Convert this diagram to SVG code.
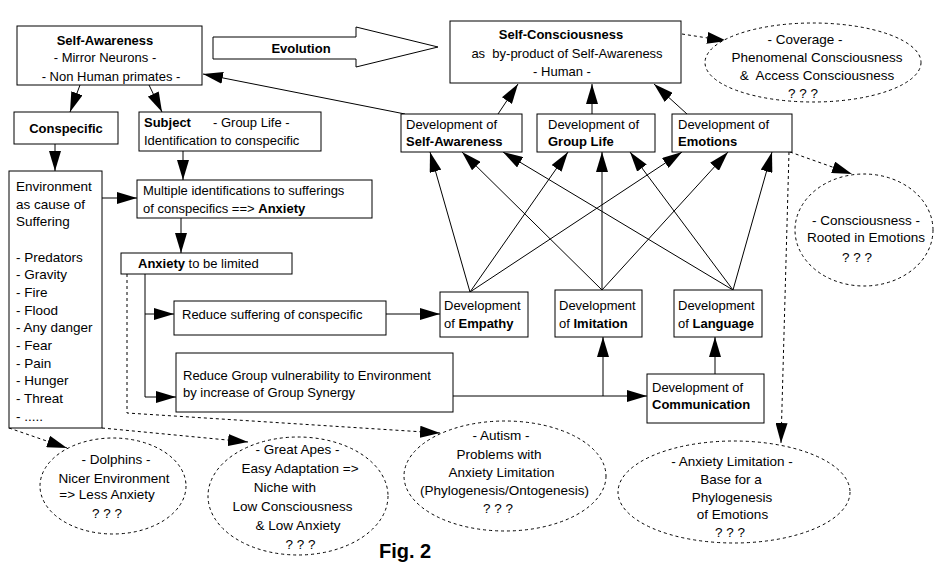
<svg xmlns="http://www.w3.org/2000/svg" width="944" height="579" viewBox="0 0 944 579">
<defs>
<marker id="ah" markerUnits="userSpaceOnUse" markerWidth="21" markerHeight="12" refX="20" refY="6" orient="auto"><path d="M0,0 L20,6 L0,12 z" fill="#000"/></marker>
<style>
text{font-family:"Liberation Sans",Arial,sans-serif;font-size:13px;fill:#000;white-space:pre}
.b{font-weight:bold}
.c{text-anchor:middle}
.e{font-size:13.5px}
rect,.n{fill:#fff;stroke:#000;stroke-width:1}
ellipse{fill:#fff;stroke:#000;stroke-width:1;stroke-dasharray:3,3}
.l{fill:none;stroke:#000;stroke-width:1}
.a{marker-end:url(#ah)}
.d{stroke-dasharray:3,3}
</style>
</defs>
<rect x="0" y="0" width="944" height="579" style="fill:#fff;stroke:none"/>
<g id="connectors">
<line class="l a" x1="80" y1="85" x2="70" y2="112"/>
<line class="l a" x1="149" y1="85" x2="162" y2="112"/>
<line class="l a" x1="55" y1="144" x2="55" y2="171"/>
<line class="l a" x1="183" y1="151" x2="183" y2="180"/>
<line class="l a" x1="102" y1="198" x2="137" y2="198"/>
<line class="l a" x1="181" y1="218" x2="181" y2="253"/>
<polyline class="l" points="145,274 145,397"/>
<line class="l a" x1="145" y1="314" x2="174" y2="314"/>
<line class="l a" x1="145" y1="397" x2="176" y2="397"/>
<line class="l a" x1="386" y1="314" x2="440" y2="314"/>
<line class="l a" x1="453" y1="396" x2="647" y2="396"/>
<line class="l a" x1="603" y1="396" x2="603" y2="337"/>
<line class="l a" x1="715" y1="374" x2="715" y2="337"/>
<line class="l a" x1="470" y1="292" x2="430" y2="152"/>
<line class="l a" x1="470" y1="292" x2="568" y2="152"/>
<line class="l a" x1="470" y1="292" x2="682" y2="152"/>
<line class="l a" x1="602" y1="290" x2="462" y2="152"/>
<line class="l a" x1="602" y1="290" x2="602" y2="152"/>
<line class="l a" x1="602" y1="290" x2="728" y2="152"/>
<line class="l a" x1="733" y1="290" x2="503" y2="152"/>
<line class="l a" x1="733" y1="290" x2="630" y2="152"/>
<line class="l a" x1="733" y1="290" x2="772" y2="152"/>
<line class="l a" x1="498" y1="114" x2="518" y2="84"/>
<line class="l a" x1="592" y1="114" x2="592" y2="84"/>
<line class="l a" x1="687" y1="114" x2="654" y2="84"/>
<line class="l a" x1="405" y1="114" x2="203" y2="74"/>
<line class="l d a" x1="682" y1="34" x2="727" y2="41"/>
<line class="l d a" x1="790" y1="152" x2="852" y2="174"/>
<line class="l d a" x1="789" y1="152" x2="781" y2="443"/>
<polyline class="l d a" points="127,274 127,413 440,433"/>
<line class="l d a" x1="9" y1="428" x2="67" y2="448"/>
<line class="l d a" x1="102" y1="428" x2="248" y2="442"/>
</g>
<g id="evolution">
<polygon class="n" points="213,37 356,37 356,27 438,47 356,67 356,59 213,59"/>
<text class="b c" x="301" y="53">Evolution</text>
</g>
<g id="self-awareness">
<rect x="17" y="26" width="185" height="59"/>
<text class="b c" x="105" y="45">Self-Awareness</text>
<text class="c" x="105" y="62">- Mirror Neurons -</text>
<text class="c" x="111" y="81">- Non Human primates -</text>
</g>
<g id="self-consciousness">
<rect x="450" y="21" width="231" height="62"/>
<text class="b c" x="561" y="39">Self-Consciousness</text>
<text class="c" x="567" y="58">as  by-product of Self-Awareness</text>
<text class="c" x="562" y="76">- Human -</text>
</g>
<g id="coverage">
<ellipse cx="813" cy="62.5" rx="108" ry="39.5"/>
<text class="c e" x="805" y="44">- Coverage -</text>
<text class="c e" x="817" y="62">Phenomenal Consciousness</text>
<text class="c e" x="817" y="80">&amp;  Access Consciousness</text>
<text class="c e" x="803" y="98">? ? ?</text>
</g>
<g id="dev-self-awareness">
<rect x="401" y="114" width="121" height="38"/>
<text x="406" y="129">Development of</text>
<text class="b" x="406" y="146">Self-Awareness</text>
</g>
<g id="dev-group-life">
<rect x="537" y="114" width="118" height="38"/>
<text x="548" y="129">Development of</text>
<text class="b" x="548" y="146">Group Life</text>
</g>
<g id="dev-emotions">
<rect x="672" y="114" width="120" height="38"/>
<text x="678" y="129">Development of</text>
<text class="b" x="678" y="146">Emotions</text>
</g>
<g id="conspecific">
<rect x="14" y="112" width="104" height="32"/>
<text class="b c" x="66" y="133">Conspecific</text>
</g>
<g id="subject">
<rect x="139" y="112" width="182" height="39"/>
<text class="b" x="144" y="127">Subject</text>
<text x="213" y="127">- Group Life -</text>
<text x="144" y="145">Identification to conspecific</text>
</g>
<g id="environment">
<rect x="9" y="171" width="93" height="257"/>
<text class="e" x="16" y="191">Environment</text>
<text class="e" x="16" y="208.5">as cause of</text>
<text class="e" x="16" y="226">Suffering</text>
<text class="e" x="16" y="261.5">- Predators</text>
<text class="e" x="16" y="279">- Gravity</text>
<text class="e" x="16" y="297">- Fire</text>
<text class="e" x="16" y="314.5">- Flood</text>
<text class="e" x="16" y="332">- Any danger</text>
<text class="e" x="16" y="350">- Fear</text>
<text class="e" x="16" y="367.5">- Pain</text>
<text class="e" x="16" y="385">- Hunger</text>
<text class="e" x="16" y="403">- Threat</text>
<text class="e" x="16" y="421">- .....</text>
</g>
<g id="multiple">
<rect x="137" y="180" width="235" height="38"/>
<text x="143" y="195">Multiple identifications to sufferings</text>
<text x="143" y="213">of conspecifics ==&gt; <tspan class="b">Anxiety</tspan></text>
</g>
<g id="anxiety">
<rect x="121" y="253" width="171" height="21"/>
<text x="138" y="268"><tspan class="b">Anxiety</tspan> to be limited</text>
</g>
<g id="reduce-suffering">
<rect x="174" y="301" width="212" height="34"/>
<text x="182" y="319">Reduce suffering of conspecific</text>
</g>
<g id="reduce-group">
<rect x="176" y="353" width="277" height="59"/>
<text x="183" y="380">Reduce Group vulnerability to Environment</text>
<text x="183" y="397">by increase of Group Synergy</text>
</g>
<g id="dev-empathy">
<rect x="440" y="292" width="88" height="45"/>
<text x="444" y="310">Development</text>
<text x="444" y="328">of <tspan class="b">Empathy</tspan></text>
</g>
<g id="dev-imitation">
<rect x="555" y="290" width="87" height="47"/>
<text x="559" y="310">Development</text>
<text x="559" y="328">of <tspan class="b">Imitation</tspan></text>
</g>
<g id="dev-language">
<rect x="674" y="290" width="88" height="47"/>
<text x="678" y="310">Development</text>
<text x="678" y="328">of <tspan class="b">Language</tspan></text>
</g>
<g id="dev-communication">
<rect x="647" y="374" width="117" height="49"/>
<text x="652" y="392">Development of</text>
<text class="b" x="652" y="409">Communication</text>
</g>
<g id="consciousness">
<ellipse cx="864" cy="230" rx="69" ry="56"/>
<text class="c e" x="866" y="225">- Consciousness -</text>
<text class="c e" x="866" y="242">Rooted in Emotions</text>
<text class="c e" x="857" y="262">? ? ?</text>
</g>
<g id="dolphins">
<ellipse cx="113" cy="486" rx="73" ry="48"/>
<text class="c e" x="116" y="464">- Dolphins -</text>
<text class="c e" x="114" y="483">Nicer Environment</text>
<text class="c e" x="107" y="499">=&gt; Less Anxiety</text>
<text class="c e" x="107" y="518">? ? ?</text>
</g>
<g id="great-apes">
<ellipse cx="298" cy="496" rx="90" ry="59"/>
<text class="c e" x="297.5" y="454">- Great Apes -</text>
<text class="c e" x="300" y="473">Easy Adaptation =&gt;</text>
<text class="c e" x="285" y="492">Niche with</text>
<text class="c e" x="292.5" y="511">Low Consciousness</text>
<text class="c e" x="298" y="530">&amp; Low Anxiety</text>
<text class="c e" x="300.5" y="549">? ? ?</text>
</g>
<g id="autism">
<ellipse cx="505" cy="476" rx="101" ry="55"/>
<text class="c e" x="501" y="440">- Autism -</text>
<text class="c e" x="499" y="459">Problems with</text>
<text class="c e" x="501.5" y="477">Anxiety Limitation</text>
<text class="c e" x="504.5" y="495">(Phylogenesis/Ontogenesis)</text>
<text class="c e" x="498" y="513">? ? ?</text>
</g>
<g id="anxiety-limitation">
<ellipse cx="734" cy="492" rx="116" ry="51"/>
<text class="c e" x="732" y="466">- Anxiety Limitation -</text>
<text class="c e" x="731" y="484">Base for a</text>
<text class="c e" x="732" y="502">Phylogenesis</text>
<text class="c e" x="732.5" y="519">of Emotions</text>
<text class="c e" x="730" y="537">? ? ?</text>
</g>
<text class="b" x="379" y="558" style="font-size:20px">Fig. 2</text>
</svg>
